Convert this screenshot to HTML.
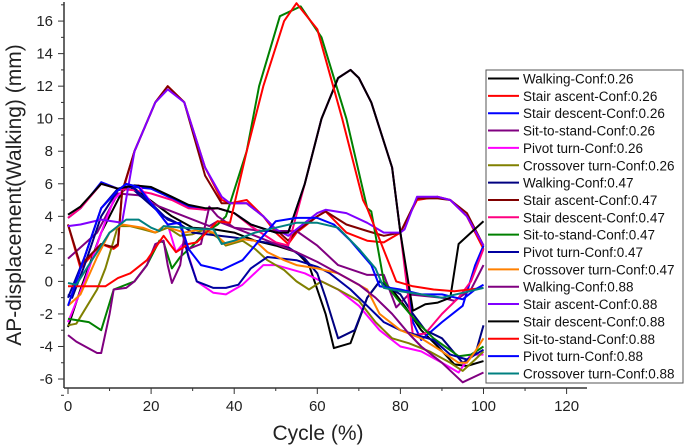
<!DOCTYPE html>
<html><head><meta charset="utf-8"><style>
body{margin:0;background:#fff;}
svg{display:block;font-family:"Liberation Sans",Arial,sans-serif;}
</style></head><body>
<svg id="chart" width="685" height="447" viewBox="0 0 685 447" xmlns="http://www.w3.org/2000/svg">
<g id="grid"></g><g id="series"></g><g id="axes"></g><g id="legend"></g>
</svg>
<script>
const xTicks=[0,20,40,60,80,100,120];
const yTicks=[-6,-4,-2,0,2,4,6,8,10,12,14,16];
const names=["Walking-Conf:0.26","Stair ascent-Conf:0.26","Stair descent-Conf:0.26","Sit-to-stand-Conf:0.26","Pivot turn-Conf:0.26","Crossover turn-Conf:0.26","Walking-Conf:0.47","Stair ascent-Conf:0.47","Stair descent-Conf:0.47","Sit-to-stand-Conf:0.47","Pivot turn-Conf:0.47","Crossover turn-Conf:0.47","Walking-Conf:0.88","Stair ascent-Conf:0.88","Stair descent-Conf:0.88","Sit-to-stand-Conf:0.88","Pivot turn-Conf:0.88","Crossover turn-Conf:0.88"];
const colors=["#000000","#ff0000","#0000ff","#800080","#ff00ff","#808000","#000080","#800000","#ff0080","#008000","#0000a0","#ff8000","#800080","#8000ff","#000000","#ff0000","#0000ff","#008080"];
const sWalk26X=[0,3,8,13,15,25,30,35,40,45,50,55,58,62,64,68,72,75,78,81,85,89,93,96,100];
const sWalk26Y=[-2.8,-0.5,3,5.5,5.9,4,3.3,3.2,3,2.5,2.2,1.8,1,-2,-4.1,-3.8,-1,0,-0.5,-1.5,-3,-4,-5.1,-5.2,-4.9];
const sAsc26X=[0,3,8,11,12,13,16,21,24,28,33,37,39,43,47,50,53,55,60,62,67,72,76,80,84,89,92,96,100];
const sAsc26Y=[3.5,0.8,2.3,2,2.2,5.4,8,11,12,11,7,5,4.8,5,4,3,2.3,3,4,4.3,3,2.5,2.4,3,5,5.2,5,4,2];
const sDes26X=[0,3,8,12,16,20,25,29,33,36,40,44,50,53,57,61,65,68,70,73,78,80,83,85,90,95,98,100];
const sDes26Y=[3.9,4.5,6.1,5.7,5.8,5.7,5.1,4.6,4.4,4.5,4.2,3.5,3,3,6,10,12.5,13,12.5,11,7,3,-2.5,-3.6,-2.5,-1.5,1,2.2];
const sSit26X=[0,7,12,17,22,30,34,36,40,47,55,60,65,72,76,79,82,90,93,97,100];
const sSit26Y=[1.4,3,5.4,5.3,4.6,3.8,3.4,3.7,3.3,3.1,3.1,2.2,1,0.4,0.4,-1.6,-0.8,-1,-1.2,-0.5,1];
const sPiv26X=[0,4,8,11,14,17,21,24,26,28,31,35,38,42,47,50,57,61,65,70,75,80,85,90,94,97,100];
const sPiv26Y=[-2.5,0,3,5,5.8,5.9,4.5,3.5,1.8,2.4,0,-0.7,-0.8,-0.2,1,1,0.5,0,-0.5,-1.5,-3,-4,-4.3,-5,-5.6,-4.5,-4.5];
const sCro26X=[0,2,7,9,12,15,18,21,24,27,30,33,36,38,42,45,48,52,55,58,61,65,70,74,78,82,87,92,95,98,100];
const sCro26Y=[-2.7,-2.6,-0.5,0.8,3.4,3.4,3.2,3,3.3,2.8,2.9,3.2,2.7,2.2,2.5,2,1.3,0.7,0,-0.5,0,-0.5,-1.2,-2.5,-3.5,-3.8,-4.3,-5,-5.5,-4.8,-4.3];
const sWalk47X=[0,1,4,8,12,15,23,27,30,40,50,53,57,60,62,65,69,72,75,80,83,86,90,95,98,100];
const sWalk47Y=[-0.8,-1,1,4,5.6,5.8,4,3.5,3,2.7,2.3,2.1,1.4,0.5,-1,-3.5,-3,-1,0,-0.8,-2,-3,-3.5,-5,-4.5,-2.7];
const sAsc47X=[0,3,8,11,12,13,16,21,24,28,33,37,39,43,47,50,53,55,60,62,67,72,76,80,84,89,92,96,100];
const sAsc47Y=[3.5,1,2.3,2.1,2.3,5.5,8,11,12,11,6.5,4.8,4.8,4.8,4,3.2,2.5,3.1,4,4.3,3.5,3.1,2.8,3,5.1,5.1,5,4.2,2.2];
const sDes47X=[0,3,8,12,16,20,25,29,33,36,40,44,50,53,57,61,65,68,70,73,78,80,83,86,90,94,97,100];
const sDes47Y=[3.9,4.5,6,5.7,5.6,5.4,5,4.5,4.4,4.5,4.2,3.4,2.4,2.2,6,10,12.5,13,12.5,11,7,3,-3.3,-3.2,-2,-1,0,2];
const sSit47X=[0,5,8,11,16,19,22,23,25,27,30,33,36,38,43,46,51,56,61,67,72,73,76,79,84,88,94,97,100];
const sSit47Y=[-2.3,-2.5,-3,-0.5,0,1,2.5,2.4,0.8,1.5,2.2,3,3.5,4,8,12,16.3,16.9,15,10,4.5,4.3,0,-1,-2.5,-3.5,-4.6,-4.5,-4];
const sPiv47X=[0,4,8,12,15,20,24,27,29,31,35,38,41,44,48,55,60,63,68,72,76,80,84,88,92,96,100];
const sPiv47Y=[-1,1.5,4.5,5.7,5.9,4.8,3.8,3.5,1.5,0,-0.4,-0.4,-0.2,0.8,1.5,1.3,0.9,0.5,-0.5,-1.5,-2.5,-3,-3.3,-3.6,-4.5,-4.8,-4.2];
const sCro47X=[0,3,7,10,13,18,21,23,28,32,35,38,42,45,48,52,55,60,65,72,75,80,85,90,94,96,98,100];
const sCro47Y=[-1.5,-0.8,1.5,3,3.5,3.3,3,3.4,3,3.2,3,2.3,2.6,2.5,1.8,1.3,1,0.8,0.5,-0.5,-2,-3,-3.5,-4.3,-5,-5,-4.3,-3.5];
const sWalk88X=[0,2,7,8,10,11,14,16,19,21,23,24,25,27,28,29,32,34,36,40,45,50,55,60,65,70,74,78,80,82,85,90,95,100];
const sWalk88Y=[-3.3,-3.7,-4.4,-4.4,-2,-0.5,-0.4,0,1,2.3,2.5,1,-0.1,1,2.8,2,2.3,4.6,4,3.3,2.8,2.3,1.8,1.2,0.5,-0.2,-1,-2,-2.6,-3.2,-4,-5,-6.2,-5.6];
const sAsc88X=[0,3,8,13,16,21,24,28,33,37,39,43,47,50,53,55,60,62,67,72,76,80,81,84,89,92,96,100];
const sAsc88Y=[3.4,3.5,3.8,3.6,8,11,11.8,11,7,5.2,4.8,4.8,4,3.2,2.8,3.2,4.2,4.4,4.2,3.6,3,3,3.2,5.2,5.2,5,4,2.2];
const sDes88X=[0,3,8,12,16,20,25,29,33,36,40,44,50,53,57,61,65,68,70,73,78,80,83,86,89,92,94,97,100];
const sDes88Y=[4.1,4.6,6,5.7,5.9,5.8,5.2,4.7,4.5,4.5,4.2,3.5,3,3,6,10,12.5,13,12.5,11,7,3,-1.8,-1.4,-1.3,-1,2.3,3,3.7];
const sSit88X=[0,9,12,15,19,23,26,29,31,36,39,43,47,52,55,60,66,71,72,79,83,88,93,100];
const sSit88Y=[-0.3,-0.3,0.2,0.5,1.3,2.8,1.8,2.3,2.4,3.7,3.6,8,12,16,17.1,15.5,10,5,4.5,0,-0.3,-0.5,-0.6,-0.4];
const sPiv88X=[0,4,8,12,14,17,20,24,27,29,32,37,42,46,50,55,60,64,68,73,75,80,85,90,95,98,100];
const sPiv88Y=[-1.5,1.5,4.5,5.6,6,5.8,4.8,3.5,3.6,2,1,0.7,1.3,2.5,3.7,3.9,3.9,3.5,2.5,1,-0.3,-0.5,-0.8,-0.8,-1.1,-0.5,-0.2];
const sCro88X=[0,2,5,10,14,17,20,22,23,28,32,35,37,40,45,50,55,60,65,70,74,76,80,85,90,95,100];
const sCro88Y=[-0.1,-0.2,1,3,3.8,3.8,3.3,3.1,3.4,3.3,3.2,3.2,2.3,2.5,3,3.3,3.6,3.6,3.3,2,0.8,-0.4,-0.6,-0.8,-1,-0.7,-0.4];
const seriesX=[sWalk26X,sAsc26X,sDes26X,sSit26X,sPiv26X,sCro26X,sWalk47X,sAsc47X,sDes47X,sSit47X,sPiv47X,sCro47X,sWalk88X,sAsc88X,sDes88X,sSit88X,sPiv88X,sCro88X];
const seriesY=[sWalk26Y,sAsc26Y,sDes26Y,sSit26Y,sPiv26Y,sCro26Y,sWalk47Y,sAsc47Y,sDes47Y,sSit47Y,sPiv47Y,sCro47Y,sWalk88Y,sAsc88Y,sDes88Y,sSit88Y,sPiv88Y,sCro88Y];

const NS="http://www.w3.org/2000/svg";
function sx(v){return 68+v*4.155;}
function sy(v){return 281.4-v*16.27;}
function mk(tag,attrs,parent){const e=document.createElementNS(NS,tag);for(const k in attrs)e.setAttribute(k,attrs[k]);parent.appendChild(e);return e;}
const gS=document.getElementById('series'),gA=document.getElementById('axes'),gL=document.getElementById('legend');
for(let i=0;i<seriesX.length;i++){
  const d=seriesX[i].map((x,j)=>(j?'L':'M')+sx(x).toFixed(1)+' '+sy(seriesY[i][j]).toFixed(1)).join(' ');
  const p=mk('path',{d:d,fill:'none',stroke:colors[i],'stroke-width':2,'stroke-linejoin':'round'},gS);
  
  
}
const yl=mk('line',{x1:64,y1:2,x2:64,y2:388,stroke:'#333','stroke-width':1.5},gA);


const xl=mk('line',{x1:64,y1:388,x2:587,y2:388,stroke:'#333','stroke-width':1.5},gA);


for(let v=-7;v<=17;v++){const y=sy(v);const maj=v%2===0;mk('line',{x1:maj?58:61,y1:y,x2:64,y2:y,stroke:'#333','stroke-width':1},gA);}
yTicks.forEach(v=>{const t=mk('text',{x:53,y:sy(v)+5,'text-anchor':'end','font-size':15,fill:'#222'},gA);t.textContent=v;
 
 });
for(let v=0;v<=125;v+=10){const x=sx(v);const maj=v%20===0;mk('line',{x1:x,y1:388,x2:x,y2:maj?394:391,stroke:'#333','stroke-width':1},gA);}
xTicks.forEach(v=>{const t=mk('text',{x:sx(v),y:411,'text-anchor':'middle','font-size':15,fill:'#222'},gA);t.textContent=v;
 
 });
const xt=mk('text',{x:318,y:440,'text-anchor':'middle','font-size':21,fill:'#222'},gA);xt.textContent='Cycle (%)';


const yt=mk('text',{x:0,y:0,'text-anchor':'middle','font-size':21,fill:'#222',transform:'translate(21,195) rotate(-90)'},gA);yt.textContent='AP-displacement(Walking) (mm)';


mk('rect',{x:486,y:70,width:197,height:313,fill:'#fff',stroke:'#555','stroke-width':1},gL);
names.forEach((n,i)=>{const y=78.5+i*17.35;
 const ln=mk('line',{x1:488,y1:y,x2:519,y2:y,stroke:colors[i],'stroke-width':2},gL);
 
 
 const t=mk('text',{x:523,y:y+5,'font-size':13.5,fill:'#111'},gL);t.textContent=n;
 
 });
</script>
</body></html>
